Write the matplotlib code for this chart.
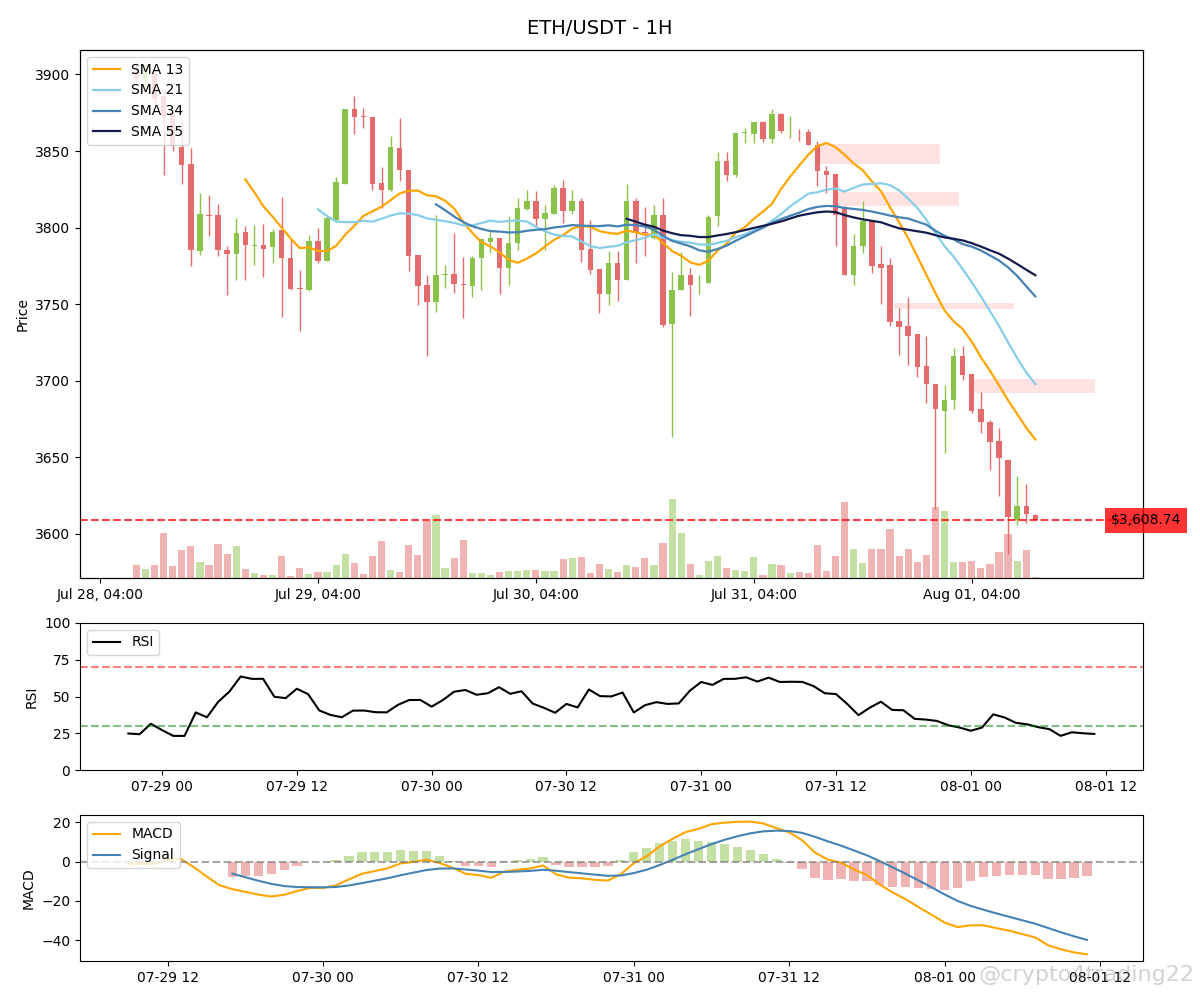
import matplotlib
matplotlib.use("Agg")
import matplotlib.pyplot as plt
import matplotlib.dates as mdates
import matplotlib.transforms as mtransforms
import numpy as np
import pandas as pd

# hourly candles, Jul 28 08:00 -> Aug 01 11:00
start = "2025-07-28 08:00"
opens = [3902.0, 3898.0, 3900.0, 3886.0, 3874.0, 3852.9, 3841.7, 3784.8, 3808.0, 3808.0,
         3785.3, 3782.6, 3797.4, 3788.2, 3788.4, 3787.1, 3798.3, 3780.1, 3760.1, 3759.0,
         3791.1, 3778.3, 3804.6, 3828.6, 3877.2, 3872.4, 3872.0, 3828.9, 3824.4, 3852.2,
         3837.6, 3782.1, 3762.4, 3751.2, 3768.9, 3769.8, 3763.0, 3761.9, 3779.9, 3790.7,
         3792.9, 3773.8, 3789.6, 3812.0, 3817.4, 3805.7, 3809.1, 3826.0, 3810.7, 3817.4,
         3786.0, 3772.7, 3756.3, 3777.0, 3766.0, 3817.6, 3797.0, 3793.4, 3808.4, 3737.2,
         3759.0, 3769.3, 3763.5, 3763.7, 3807.3, 3843.5, 3834.3, 3861.7, 3861.2, 3869.1,
         3857.8, 3874.2, 3863.5, 3864.0, 3862.3, 3854.0, 3837.2, 3834.9, 3813.6, 3769.3,
         3787.8, 3804.2, 3776.1, 3775.4, 3739.0, 3735.4, 3730.5, 3709.6, 3697.5, 3680.0,
         3687.1, 3715.9, 3704.0, 3681.1, 3673.2, 3660.2, 3647.8, 3609.2, 3618.2, 3612.1]
highs = [3909.0, 3910.0, 3903.0, 3890.0, 3878.0, 3870.9, 3851.8, 3822.6, 3821.0, 3815.2,
         3787.8, 3806.4, 3801.2, 3801.7, 3802.4, 3799.0, 3819.7, 3792.7, 3772.0, 3795.2,
         3799.4, 3808.0, 3832.7, 3877.2, 3885.9, 3878.1, 3872.0, 3839.4, 3859.6, 3871.3,
         3837.6, 3782.1, 3768.7, 3808.0, 3775.4, 3796.1, 3781.0, 3781.7, 3792.7, 3797.4,
         3792.9, 3807.3, 3819.2, 3824.8, 3823.7, 3814.7, 3827.7, 3831.3, 3824.2, 3819.2,
         3804.6, 3772.7, 3784.4, 3784.8, 3828.2, 3819.2, 3813.6, 3814.7, 3819.2, 3770.9,
         3783.9, 3773.6, 3768.7, 3808.4, 3849.1, 3849.1, 3861.9, 3865.3, 3869.1, 3869.7,
         3877.2, 3874.7, 3873.1, 3864.6, 3864.1, 3856.3, 3840.5, 3834.9, 3814.3, 3795.6,
         3817.6, 3804.2, 3787.8, 3779.9, 3747.3, 3754.5, 3730.5, 3729.4, 3697.9, 3696.8,
         3721.5, 3722.6, 3704.0, 3692.3, 3674.3, 3668.7, 3647.8, 3637.7, 3632.3, 3612.5]
lows = [3895.0, 3893.0, 3880.0, 3834.6, 3850.0, 3828.2, 3774.7, 3782.1, 3794.5, 3781.7,
        3755.6, 3766.0, 3765.7, 3775.4, 3767.5, 3776.5, 3741.7, 3759.5, 3732.7, 3758.5,
        3777.0, 3778.3, 3803.9, 3828.6, 3861.2, 3865.3, 3824.2, 3812.5, 3823.7, 3830.4,
        3771.4, 3749.6, 3716.3, 3745.1, 3760.8, 3757.0, 3740.6, 3754.5, 3759.2, 3783.3,
        3756.8, 3762.4, 3785.5, 3811.3, 3801.2, 3785.5, 3809.1, 3802.8, 3809.1, 3777.6,
        3769.8, 3744.0, 3749.6, 3751.8, 3766.0, 3776.5, 3781.7, 3792.3, 3735.0, 3663.1,
        3759.0, 3742.2, 3756.3, 3763.7, 3801.2, 3830.4, 3832.7, 3855.2, 3855.2, 3855.6,
        3855.2, 3861.9, 3858.5, 3856.3, 3854.0, 3827.1, 3822.6, 3787.8, 3769.3, 3762.4,
        3783.3, 3770.2, 3750.0, 3735.4, 3717.0, 3710.3, 3702.4, 3685.6, 3616.0, 3653.0,
        3681.1, 3700.2, 3678.8, 3666.0, 3641.3, 3624.9, 3586.7, 3605.8, 3607.0, 3608.7]
closes = [3898.0, 3906.0, 3884.0, 3873.0, 3853.0, 3840.6, 3785.1, 3808.6, 3807.8, 3785.1,
          3782.6, 3796.3, 3788.4, 3788.6, 3786.2, 3797.4, 3779.9, 3759.7, 3759.7, 3791.1,
          3778.3, 3806.2, 3829.8, 3877.2, 3872.0, 3872.2, 3828.6, 3824.8, 3852.5, 3837.9,
          3781.7, 3761.9, 3751.2, 3769.1, 3769.3, 3763.0, 3762.4, 3780.3, 3792.7, 3792.9,
          3773.8, 3789.6, 3812.5, 3817.4, 3805.7, 3809.6, 3826.0, 3810.7, 3817.4, 3785.5,
          3772.5, 3756.3, 3777.0, 3766.0, 3817.6, 3797.4, 3796.5, 3808.4, 3736.1, 3759.2,
          3769.3, 3762.6, 3764.0, 3806.9, 3843.5, 3834.3, 3861.9, 3862.1, 3869.1, 3857.8,
          3874.2, 3863.0, 3863.9, 3863.5, 3854.0, 3836.7, 3834.5, 3808.0, 3769.3, 3787.8,
          3804.2, 3774.9, 3773.8, 3738.3, 3735.0, 3728.9, 3709.1, 3697.9, 3681.1, 3687.4,
          3715.9, 3703.5, 3680.4, 3673.2, 3659.7, 3649.6, 3611.0, 3618.2, 3612.5, 3608.74]
volumes = [3700, 2700, 3900, 13200, 3400, 8200, 9200, 4700, 3700, 10000,
           6900, 9200, 2500, 1500, 1000, 1000, 6500, 700, 3000, 1300,
           1800, 1800, 3900, 7100, 4400, 1300, 6500, 10700, 2400, 1800,
           9700, 6800, 16700, 18300, 2900, 5900, 11000, 1500, 1500, 1000,
           1700, 2000, 2000, 2300, 2400, 2000, 2000, 5600, 5900, 6200,
           1500, 4200, 2700, 1800, 3900, 3300, 5900, 3700, 10300, 23000,
           13200, 4200, 1000, 5000, 6500, 3000, 2200, 1900, 6200, 1000,
           4000, 3700, 1500, 1800, 1500, 9700, 2100, 6500, 22200, 8500,
           4500, 8500, 8500, 14300, 6500, 8500, 4700, 6700, 20700, 19500,
           4700, 4700, 5000, 3000, 4200, 7700, 12900, 5000, 8200, 400]

# supply zones (start, end, low, high)
zone_start = ["2025-07-31 11:12", "2025-07-31 13:12", "2025-07-31 19:24", "2025-08-01 04:12"]
zone_end = ["2025-08-01 00:30", "2025-08-01 02:36", "2025-08-01 08:36", "2025-08-01 17:36"]
zone_low = [3841.7, 3814.3, 3746.9, 3691.6]
zone_high = [3854.7, 3823.0, 3750.7, 3701.3]

last_price = 3608.74
sma_periods = [13, 21, 34, 55]
sma_colors = ["orange", "skyblue", "steelblue", "#141b4d"]

UP = "#8bc34a"
DOWN = "#e36b6b"

df = pd.DataFrame({"open": opens, "high": highs, "low": lows, "close": closes,
                   "volume": volumes},
                  index=pd.date_range(start, periods=len(closes), freq="h"))
t = df.index
up = df["close"] >= df["open"]
colors = np.where(up, UP, DOWN)

# indicadores (RSI tipo Wilder)
delta = df["close"].diff()
gain = delta.where(delta > 0, 0).ewm(alpha=1 / 14, adjust=False, min_periods=14).mean()
loss = (-delta.where(delta < 0, 0)).ewm(alpha=1 / 14, adjust=False, min_periods=14).mean()
rsi = 100 - 100 / (1 + gain / loss)

ema12 = df["close"].ewm(span=12, adjust=False, min_periods=12).mean()
ema26 = df["close"].ewm(span=26, adjust=False, min_periods=26).mean()
macd = ema12 - ema26
signal = macd.ewm(span=9, adjust=False, min_periods=9).mean()
hist = macd - signal

fig = plt.figure(figsize=(12, 10), dpi=100)
fig.suptitle("ETH/USDT - 1H", fontsize=14, y=0.981)

ax = fig.add_axes([0.0667, 0.422, 0.8855, 0.528])
ax_rsi = fig.add_axes([0.0667, 0.230, 0.8855, 0.147])
ax_macd = fig.add_axes([0.0667, 0.039, 0.8855, 0.146])

# volumen detras de las velas
ax_vol = ax.twinx()
ax_vol.bar(t, df["volume"], width=0.033, color=colors, alpha=0.5)
ax_vol.set_ylim(0, df["volume"].max() * 6.7)
ax_vol.set_yticks([])
ax.set_zorder(ax_vol.get_zorder() + 1)
ax.patch.set_visible(False)

# velas
ax.vlines(t, df["low"], df["high"], colors=colors, linewidth=1)
body = np.maximum((df["close"] - df["open"]).abs(), 0.5)
ax.bar(t, body, bottom=np.minimum(df["open"], df["close"]), width=0.025, color=colors)

for n, c in zip(sma_periods, sma_colors):
    ax.plot(t, df["close"].rolling(n).mean(), color=c, linewidth=1.6, label=f"SMA {n}")

for s, e, lo, hi in zip(zone_start, zone_end, zone_low, zone_high):
    ax.fill_between(pd.to_datetime([s, e]), lo, hi, color="red", alpha=0.11, linewidth=0)

ax.axhline(last_price, color="red", linestyle="--", linewidth=1.5, alpha=0.75)
trans = mtransforms.blended_transform_factory(ax.transAxes, ax.transData)
ax.text(1.003, last_price, f"${last_price:,.2f}", transform=trans, ha="center", va="center",
        fontsize=10, bbox=dict(facecolor="red", alpha=0.8, edgecolor="none", pad=4))

ax.set_ylim(3571, 3916)
ax.set_xlim(pd.Timestamp("2025-07-28 01:48"), pd.Timestamp("2025-08-01 22:49"))
ax.xaxis.set_major_locator(mdates.HourLocator(byhour=[4]))
ax.xaxis.set_major_formatter(mdates.DateFormatter("%b %d, %H:%M"))
ax.set_ylabel("Price")
ax.legend(loc="upper left")

# RSI
ax_rsi.plot(t, rsi, color="black", linewidth=1.5, label="RSI")
ax_rsi.axhline(70, color="red", linestyle="--", alpha=0.5)
ax_rsi.axhline(30, color="green", linestyle="--", alpha=0.5)
ax_rsi.set_ylim(0, 100)
ax_rsi.set_yticks([0, 25, 50, 75, 100])
ax_rsi.set_ylabel("RSI")
ax_rsi.xaxis.set_major_locator(mdates.HourLocator(byhour=[0, 12]))
ax_rsi.xaxis.set_major_formatter(mdates.DateFormatter("%m-%d %H"))
ax_rsi.legend(loc="upper left")

# MACD
ax_macd.plot(t, macd, color="orange", linewidth=1.5, label="MACD")
ax_macd.plot(t, signal, color="steelblue", linewidth=1.5, label="Signal")
ax_macd.bar(t, hist, width=0.03, color=np.where(hist >= 0, UP, DOWN), alpha=0.5)
ax_macd.axhline(0, color="gray", linestyle="--", alpha=0.7)
ax_macd.set_xlim(pd.Timestamp("2025-07-29 05:14"), pd.Timestamp("2025-08-01 15:18"))
ax_macd.set_ylabel("MACD")
ax_macd.xaxis.set_major_locator(mdates.HourLocator(byhour=[0, 12]))
ax_macd.xaxis.set_major_formatter(mdates.DateFormatter("%m-%d %H"))
ax_macd.legend(loc="upper left")

# marca de agua del original
fig.text(0.995, 0.025, "@crypto4trading22", ha="right", va="center", fontsize=16,
         color="gray", alpha=0.35)

fig.savefig("out.png", dpi=100)
plt.close(fig)
